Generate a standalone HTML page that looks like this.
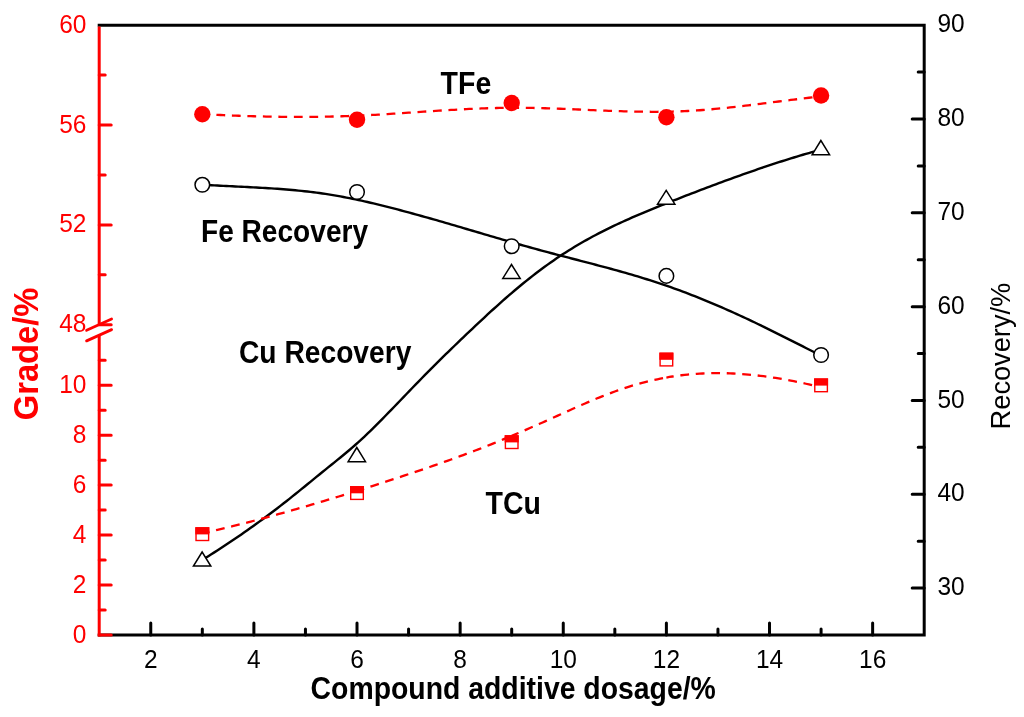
<!DOCTYPE html>
<html lang="en">
<head>
<meta charset="utf-8">
<title>Grade and recovery vs compound additive dosage</title>
<style>
html,body{margin:0;padding:0;background:#ffffff;}
body{width:1024px;height:717px;overflow:hidden;}
svg{display:block;}
</style>
</head>
<body>
<svg width="1024" height="717" viewBox="0 0 1024 717">
<rect width="1024" height="717" fill="#ffffff"/>
<g fill="none" stroke-linejoin="round">
<path d="M202.3 184.69 L205.3 184.88 L208.31 185.06 L211.31 185.23 L214.31 185.39 L217.31 185.55 L220.32 185.71 L223.32 185.87 L226.32 186.02 L229.33 186.17 L232.33 186.31 L235.33 186.46 L238.33 186.61 L241.34 186.75 L244.34 186.9 L247.34 187.05 L250.35 187.21 L253.35 187.36 L256.35 187.52 L259.36 187.69 L262.36 187.86 L265.36 188.04 L268.36 188.22 L271.37 188.41 L274.37 188.61 L277.37 188.82 L280.38 189.04 L283.38 189.27 L286.38 189.5 L289.38 189.75 L292.39 190.02 L295.39 190.29 L298.39 190.58 L301.4 190.89 L304.4 191.2 L307.4 191.54 L310.4 191.89 L313.41 192.26 L316.41 192.64 L319.41 193.05 L322.42 193.47 L325.42 193.91 L328.42 194.37 L331.43 194.86 L334.43 195.36 L337.43 195.88 L340.43 196.42 L343.44 196.98 L346.44 197.56 L349.44 198.15 L352.45 198.76 L355.45 199.39 L358.45 200.03 L361.45 200.68 L364.46 201.35 L367.46 202.03 L370.46 202.73 L373.47 203.43 L376.47 204.15 L379.47 204.88 L382.47 205.62 L385.48 206.37 L388.48 207.13 L391.48 207.89 L394.49 208.67 L397.49 209.45 L400.49 210.24 L403.5 211.04 L406.5 211.85 L409.5 212.66 L412.5 213.48 L415.51 214.3 L418.51 215.13 L421.51 215.97 L424.52 216.81 L427.52 217.66 L430.52 218.51 L433.52 219.36 L436.53 220.22 L439.53 221.09 L442.53 221.95 L445.54 222.82 L448.54 223.7 L451.54 224.57 L454.54 225.45 L457.55 226.33 L460.55 227.21 L463.55 228.09 L466.56 228.98 L469.56 229.86 L472.56 230.75 L475.57 231.63 L478.57 232.52 L481.57 233.4 L484.57 234.28 L487.58 235.17 L490.58 236.05 L493.58 236.93 L496.59 237.81 L499.59 238.68 L502.59 239.56 L505.59 240.43 L508.6 241.3 L511.6 242.16 L514.6 243.02 L517.61 243.88 L520.61 244.73 L523.61 245.58 L526.61 246.43 L529.62 247.26 L532.62 248.1 L535.62 248.92 L538.63 249.75 L541.63 250.56 L544.63 251.37 L547.63 252.17 L550.64 252.97 L553.64 253.77 L556.64 254.56 L559.65 255.35 L562.65 256.13 L565.65 256.91 L568.66 257.7 L571.66 258.48 L574.66 259.25 L577.66 260.03 L580.67 260.81 L583.67 261.6 L586.67 262.38 L589.68 263.16 L592.68 263.95 L595.68 264.74 L598.68 265.54 L601.69 266.34 L604.69 267.14 L607.69 267.95 L610.7 268.77 L613.7 269.59 L616.7 270.42 L619.7 271.26 L622.71 272.1 L625.71 272.96 L628.71 273.82 L631.72 274.69 L634.72 275.58 L637.72 276.47 L640.73 277.38 L643.73 278.3 L646.73 279.23 L649.73 280.17 L652.74 281.13 L655.74 282.1 L658.74 283.09 L661.75 284.09 L664.75 285.11 L667.75 286.15 L670.75 287.2 L673.76 288.27 L676.76 289.36 L679.76 290.46 L682.77 291.57 L685.77 292.71 L688.77 293.85 L691.77 295.02 L694.78 296.19 L697.78 297.38 L700.78 298.59 L703.79 299.81 L706.79 301.05 L709.79 302.29 L712.8 303.56 L715.8 304.83 L718.8 306.12 L721.8 307.42 L724.81 308.74 L727.81 310.06 L730.81 311.4 L733.82 312.75 L736.82 314.12 L739.82 315.49 L742.82 316.88 L745.83 318.28 L748.83 319.69 L751.83 321.11 L754.84 322.54 L757.84 323.98 L760.84 325.43 L763.84 326.89 L766.85 328.36 L769.85 329.84 L772.85 331.33 L775.86 332.83 L778.86 334.33 L781.86 335.84 L784.87 337.35 L787.87 338.86 L790.87 340.38 L793.87 341.9 L796.88 343.41 L799.88 344.93 L802.88 346.44 L805.89 347.95 L808.89 349.46 L811.89 350.96 L814.89 352.45 L817.9 353.93 L820.9 355.41" stroke="#000000" stroke-width="2.4" stroke-linecap="round"/>
<path d="M202.3 559.97 L205.3 558.09 L208.31 556.2 L211.31 554.29 L214.31 552.37 L217.31 550.44 L220.32 548.49 L223.32 546.52 L226.32 544.54 L229.33 542.54 L232.33 540.53 L235.33 538.5 L238.33 536.45 L241.34 534.39 L244.34 532.3 L247.34 530.21 L250.35 528.09 L253.35 525.95 L256.35 523.8 L259.36 521.63 L262.36 519.44 L265.36 517.23 L268.36 515 L271.37 512.75 L274.37 510.48 L277.37 508.19 L280.38 505.88 L283.38 503.55 L286.38 501.19 L289.38 498.82 L292.39 496.43 L295.39 494.02 L298.39 491.6 L301.4 489.17 L304.4 486.73 L307.4 484.29 L310.4 481.84 L313.41 479.39 L316.41 476.93 L319.41 474.49 L322.42 472.04 L325.42 469.61 L328.42 467.18 L331.43 464.76 L334.43 462.34 L337.43 459.91 L340.43 457.46 L343.44 455 L346.44 452.5 L349.44 449.97 L352.45 447.39 L355.45 444.76 L358.45 442.08 L361.45 439.33 L364.46 436.53 L367.46 433.68 L370.46 430.78 L373.47 427.85 L376.47 424.87 L379.47 421.86 L382.47 418.82 L385.48 415.76 L388.48 412.68 L391.48 409.58 L394.49 406.47 L397.49 403.35 L400.49 400.23 L403.5 397.1 L406.5 393.98 L409.5 390.87 L412.5 387.76 L415.51 384.66 L418.51 381.57 L421.51 378.49 L424.52 375.42 L427.52 372.38 L430.52 369.35 L433.52 366.34 L436.53 363.34 L439.53 360.37 L442.53 357.41 L445.54 354.47 L448.54 351.55 L451.54 348.64 L454.54 345.74 L457.55 342.85 L460.55 339.97 L463.55 337.1 L466.56 334.24 L469.56 331.38 L472.56 328.54 L475.57 325.7 L478.57 322.88 L481.57 320.06 L484.57 317.27 L487.58 314.49 L490.58 311.73 L493.58 308.99 L496.59 306.27 L499.59 303.58 L502.59 300.91 L505.59 298.27 L508.6 295.66 L511.6 293.08 L514.6 290.52 L517.61 288 L520.61 285.51 L523.61 283.05 L526.61 280.63 L529.62 278.23 L532.62 275.88 L535.62 273.55 L538.63 271.27 L541.63 269.02 L544.63 266.81 L547.63 264.64 L550.64 262.5 L553.64 260.41 L556.64 258.36 L559.65 256.34 L562.65 254.36 L565.65 252.42 L568.66 250.52 L571.66 248.65 L574.66 246.82 L577.66 245.03 L580.67 243.27 L583.67 241.54 L586.67 239.84 L589.68 238.18 L592.68 236.55 L595.68 234.95 L598.68 233.38 L601.69 231.84 L604.69 230.32 L607.69 228.83 L610.7 227.37 L613.7 225.93 L616.7 224.51 L619.7 223.12 L622.71 221.74 L625.71 220.38 L628.71 219.05 L631.72 217.72 L634.72 216.42 L637.72 215.13 L640.73 213.86 L643.73 212.59 L646.73 211.34 L649.73 210.1 L652.74 208.87 L655.74 207.65 L658.74 206.44 L661.75 205.23 L664.75 204.03 L667.75 202.83 L670.75 201.64 L673.76 200.45 L676.76 199.27 L679.76 198.09 L682.77 196.91 L685.77 195.74 L688.77 194.58 L691.77 193.41 L694.78 192.26 L697.78 191.11 L700.78 189.96 L703.79 188.82 L706.79 187.68 L709.79 186.55 L712.8 185.43 L715.8 184.31 L718.8 183.19 L721.8 182.08 L724.81 180.98 L727.81 179.88 L730.81 178.79 L733.82 177.7 L736.82 176.62 L739.82 175.55 L742.82 174.48 L745.83 173.42 L748.83 172.36 L751.83 171.31 L754.84 170.27 L757.84 169.23 L760.84 168.21 L763.84 167.18 L766.85 166.17 L769.85 165.17 L772.85 164.17 L775.86 163.18 L778.86 162.21 L781.86 161.24 L784.87 160.28 L787.87 159.34 L790.87 158.4 L793.87 157.48 L796.88 156.56 L799.88 155.66 L802.88 154.77 L805.89 153.9 L808.89 153.04 L811.89 152.19 L814.89 151.35 L817.9 150.53 L820.9 149.73" stroke="#000000" stroke-width="2.4" stroke-linecap="round"/>
<path d="M202.32 114.14 L205.36 114.3 L208.39 114.45 L211.42 114.6 L214.46 114.75 L217.49 114.89 L220.52 115.02 L223.56 115.16 L226.59 115.29 L229.62 115.41 L232.66 115.53 L235.69 115.65 L238.72 115.76 L241.76 115.87 L244.79 115.97 L247.82 116.06 L250.85 116.16 L253.89 116.24 L256.92 116.32 L259.95 116.4 L262.99 116.47 L266.02 116.54 L269.05 116.6 L272.09 116.66 L275.12 116.71 L278.15 116.75 L281.19 116.79 L284.22 116.82 L287.25 116.85 L290.28 116.87 L293.32 116.89 L296.35 116.89 L299.38 116.9 L302.42 116.9 L305.45 116.89 L308.48 116.87 L311.52 116.85 L314.55 116.82 L317.58 116.79 L320.62 116.74 L323.65 116.7 L326.68 116.64 L329.71 116.58 L332.75 116.51 L335.78 116.43 L338.81 116.35 L341.85 116.26 L344.88 116.16 L347.91 116.06 L350.95 115.95 L353.98 115.83 L357.01 115.7" stroke="#ff0000" stroke-width="2.3" stroke-dasharray="8.8 6.7" stroke-dashoffset="1.4"/>
<path d="M357.01 115.7 L360.05 115.57 L363.08 115.43 L366.11 115.28 L369.14 115.12 L372.18 114.96 L375.21 114.8 L378.24 114.63 L381.28 114.45 L384.31 114.27 L387.34 114.08 L390.38 113.9 L393.41 113.7 L396.44 113.51 L399.48 113.31 L402.51 113.11 L405.54 112.91 L408.57 112.71 L411.61 112.51 L414.64 112.3 L417.67 112.1 L420.71 111.9 L423.74 111.69 L426.77 111.49 L429.81 111.29 L432.84 111.09 L435.87 110.89 L438.91 110.7 L441.94 110.51 L444.97 110.32 L448.01 110.13 L451.04 109.95 L454.07 109.78 L457.1 109.6 L460.14 109.44 L463.17 109.28 L466.2 109.12 L469.24 108.97 L472.27 108.83 L475.3 108.7 L478.34 108.57 L481.37 108.45 L484.4 108.34 L487.44 108.24 L490.47 108.14 L493.5 108.06 L496.53 107.99 L499.57 107.92 L502.6 107.87 L505.63 107.83 L508.67 107.8 L511.7 107.78" stroke="#ff0000" stroke-width="2.3" stroke-dasharray="8.8 6.7" stroke-dashoffset="1.4"/>
<path d="M511.7 107.78 L514.73 107.77 L517.77 107.78 L520.8 107.79 L523.83 107.82 L526.87 107.85 L529.9 107.9 L532.93 107.95 L535.96 108.02 L539 108.09 L542.03 108.17 L545.06 108.25 L548.1 108.34 L551.13 108.44 L554.16 108.54 L557.2 108.65 L560.23 108.77 L563.26 108.88 L566.3 109 L569.33 109.13 L572.36 109.25 L575.39 109.38 L578.43 109.51 L581.46 109.64 L584.49 109.77 L587.53 109.9 L590.56 110.04 L593.59 110.16 L596.63 110.29 L599.66 110.42 L602.69 110.54 L605.73 110.66 L608.76 110.78 L611.79 110.89 L614.83 111 L617.86 111.11 L620.89 111.21 L623.92 111.3 L626.96 111.38 L629.99 111.46 L633.02 111.53 L636.06 111.6 L639.09 111.65 L642.12 111.7 L645.16 111.74 L648.19 111.76 L651.22 111.78 L654.26 111.78 L657.29 111.78 L660.32 111.76 L663.35 111.73 L666.39 111.69" stroke="#ff0000" stroke-width="2.3" stroke-dasharray="8.8 6.7" stroke-dashoffset="1.4"/>
<path d="M666.39 111.69 L669.42 111.63 L672.45 111.56 L675.49 111.47 L678.52 111.37 L681.55 111.26 L684.59 111.13 L687.62 110.98 L690.65 110.81 L693.69 110.63 L696.72 110.44 L699.75 110.23 L702.78 110 L705.82 109.76 L708.85 109.51 L711.88 109.25 L714.92 108.97 L717.95 108.69 L720.98 108.39 L724.02 108.08 L727.05 107.77 L730.08 107.44 L733.12 107.11 L736.15 106.77 L739.18 106.42 L742.21 106.06 L745.25 105.7 L748.28 105.34 L751.31 104.97 L754.35 104.59 L757.38 104.21 L760.41 103.83 L763.45 103.45 L766.48 103.06 L769.51 102.68 L772.55 102.29 L775.58 101.9 L778.61 101.51 L781.64 101.13 L784.68 100.74 L787.71 100.36 L790.74 99.98 L793.78 99.61 L796.81 99.24 L799.84 98.87 L802.88 98.5 L805.91 98.14 L808.94 97.76 L811.98 97.38 L815.01 96.99 L818.04 96.58 L821.08 96.16" stroke="#ff0000" stroke-width="2.3" stroke-dasharray="8.8 6.7" stroke-dashoffset="1.4"/>
<path d="M202.32 533.43 L205.36 532.74 L208.39 532.03 L211.42 531.32 L214.46 530.61 L217.49 529.88 L220.52 529.16 L223.56 528.42 L226.59 527.68 L229.62 526.93 L232.66 526.18 L235.69 525.42 L238.72 524.66 L241.76 523.89 L244.79 523.11 L247.82 522.33 L250.85 521.54 L253.89 520.75 L256.92 519.95 L259.95 519.15 L262.99 518.34 L266.02 517.52 L269.05 516.7 L272.09 515.87 L275.12 515.04 L278.15 514.21 L281.19 513.37 L284.22 512.52 L287.25 511.67 L290.28 510.81 L293.32 509.95 L296.35 509.09 L299.38 508.21 L302.42 507.34 L305.45 506.46 L308.48 505.57 L311.52 504.69 L314.55 503.79 L317.58 502.89 L320.62 501.99 L323.65 501.09 L326.68 500.17 L329.71 499.26 L332.75 498.34 L335.78 497.42 L338.81 496.49 L341.85 495.56 L344.88 494.62 L347.91 493.68 L350.95 492.74 L353.98 491.79 L357.01 490.84" stroke="#ff0000" stroke-width="2.3" stroke-dasharray="8.8 6.7" stroke-dashoffset="1.4"/>
<path d="M357.01 490.84 L360.05 489.89 L363.08 488.93 L366.11 487.97 L369.14 487.01 L372.18 486.04 L375.21 485.07 L378.24 484.09 L381.28 483.12 L384.31 482.14 L387.34 481.15 L390.38 480.17 L393.41 479.18 L396.44 478.18 L399.48 477.19 L402.51 476.18 L405.54 475.18 L408.57 474.17 L411.61 473.16 L414.64 472.14 L417.67 471.12 L420.71 470.09 L423.74 469.06 L426.77 468.02 L429.81 466.98 L432.84 465.93 L435.87 464.87 L438.91 463.81 L441.94 462.74 L444.97 461.67 L448.01 460.58 L451.04 459.49 L454.07 458.4 L457.1 457.29 L460.14 456.18 L463.17 455.06 L466.2 453.93 L469.24 452.8 L472.27 451.65 L475.3 450.5 L478.34 449.34 L481.37 448.16 L484.4 446.98 L487.44 445.79 L490.47 444.59 L493.5 443.38 L496.53 442.16 L499.57 440.93 L502.6 439.68 L505.63 438.43 L508.67 437.16 L511.7 435.89" stroke="#ff0000" stroke-width="2.3" stroke-dasharray="8.8 6.7" stroke-dashoffset="1.4"/>
<path d="M511.7 435.89 L514.73 434.61 L517.77 433.31 L520.8 432.01 L523.83 430.7 L526.87 429.39 L529.9 428.06 L532.93 426.73 L535.96 425.39 L539 424.05 L542.03 422.7 L545.06 421.35 L548.1 420 L551.13 418.64 L554.16 417.27 L557.2 415.91 L560.23 414.54 L563.26 413.17 L566.3 411.8 L569.33 410.43 L572.36 409.07 L575.39 407.72 L578.43 406.37 L581.46 405.03 L584.49 403.71 L587.53 402.39 L590.56 401.1 L593.59 399.82 L596.63 398.56 L599.66 397.32 L602.69 396.11 L605.73 394.91 L608.76 393.75 L611.79 392.61 L614.83 391.5 L617.86 390.41 L620.89 389.35 L623.92 388.33 L626.96 387.33 L629.99 386.37 L633.02 385.44 L636.06 384.54 L639.09 383.68 L642.12 382.86 L645.16 382.07 L648.19 381.31 L651.22 380.59 L654.26 379.91 L657.29 379.26 L660.32 378.64 L663.35 378.06 L666.39 377.51" stroke="#ff0000" stroke-width="2.3" stroke-dasharray="8.8 6.7" stroke-dashoffset="1.4"/>
<path d="M666.39 377.51 L669.42 376.99 L672.45 376.51 L675.49 376.06 L678.52 375.65 L681.55 375.26 L684.59 374.91 L687.62 374.59 L690.65 374.31 L693.69 374.05 L696.72 373.83 L699.75 373.64 L702.78 373.48 L705.82 373.35 L708.85 373.25 L711.88 373.18 L714.92 373.14 L717.95 373.13 L720.98 373.15 L724.02 373.19 L727.05 373.27 L730.08 373.37 L733.12 373.5 L736.15 373.65 L739.18 373.84 L742.21 374.05 L745.25 374.28 L748.28 374.54 L751.31 374.82 L754.35 375.13 L757.38 375.46 L760.41 375.82 L763.45 376.2 L766.48 376.6 L769.51 377.03 L772.55 377.47 L775.58 377.94 L778.61 378.43 L781.64 378.95 L784.68 379.48 L787.71 380.03 L790.74 380.6 L793.78 381.2 L796.81 381.81 L799.84 382.44 L802.88 383.09 L805.91 383.75 L808.94 384.44 L811.98 385.14 L815.01 385.86 L818.04 386.59 L821.08 387.34" stroke="#ff0000" stroke-width="2.3" stroke-dasharray="8.8 6.7" stroke-dashoffset="1.4"/>
</g>
<g fill="none" stroke-width="3" stroke-linecap="round">
<path d="M99.2 25.2 H924.2 V635 H99.2" stroke="#000000" stroke-linejoin="miter" stroke-linecap="square"/>
<path d="M150.76 635 v-12 M202.32 635 v-6 M253.89 635 v-12 M305.45 635 v-6 M357.01 635 v-12 M408.57 635 v-6 M460.14 635 v-12 M511.7 635 v-6 M563.26 635 v-12 M614.83 635 v-6 M666.39 635 v-12 M717.95 635 v-6 M769.51 635 v-12 M821.08 635 v-6 M872.64 635 v-12" stroke="#000000"/>
<path d="M924.2 588.09 h-12 M924.2 541.18 h-6 M924.2 494.28 h-12 M924.2 447.37 h-6 M924.2 400.46 h-12 M924.2 353.55 h-6 M924.2 306.65 h-12 M924.2 259.74 h-6 M924.2 212.83 h-12 M924.2 165.92 h-6 M924.2 119.02 h-12 M924.2 72.11 h-6" stroke="#000000"/>
<path d="M99.2 26.5 V324.7 M99.2 335.2 V636.5" stroke="#ff0000" stroke-linecap="butt"/>
<path d="M99.2 75.12 h6 M99.2 125.04 h12 M99.2 174.96 h6 M99.2 224.88 h12 M99.2 274.8 h6 M99.2 324.72 h12 M99.2 635 h12 M99.2 610.02 h6 M99.2 585.04 h12 M99.2 560.06 h6 M99.2 535.08 h12 M99.2 510.1 h6 M99.2 485.12 h12 M99.2 460.14 h6 M99.2 435.16 h12 M99.2 410.18 h6 M99.2 385.2 h12 M99.2 360.22 h6" stroke="#ff0000"/>
<path d="M86.6 330.3 L111.6 319.0 M86.6 340.9 L111.6 329.6" stroke="#ff0000" stroke-width="2.8"/>
</g>
<g stroke="#000000" stroke-width="1.5" fill="#ffffff">
<circle cx="202.32" cy="184.8" r="7.3"/>
<circle cx="357.01" cy="192" r="7.3"/>
<circle cx="511.7" cy="246.2" r="7.3"/>
<circle cx="666.39" cy="275.9" r="7.3"/>
<circle cx="821.08" cy="355" r="7.3"/>
<path d="M202.12 552 L193.43 566.1 L210.82 566.1 Z" stroke-linejoin="miter"/>
<path d="M356.81 447.5 L348.11 461.7 L365.51 461.7 Z" stroke-linejoin="miter"/>
<path d="M511.5 264.5 L502.8 278.4 L520.2 278.4 Z" stroke-linejoin="miter"/>
<path d="M666.19 190.3 L657.49 204.2 L674.89 204.2 Z" stroke-linejoin="miter"/>
<path d="M820.88 140.5 L812.17 154.7 L829.58 154.7 Z" stroke-linejoin="miter"/>
</g>
<g fill="#ff0000">
<circle cx="202.32" cy="114.2" r="8.2"/>
<circle cx="357.01" cy="119.7" r="8.2"/>
<circle cx="511.7" cy="103" r="8.2"/>
<circle cx="666.39" cy="117.3" r="8.2"/>
<circle cx="821.08" cy="95.5" r="8.2"/>
</g>
<rect x="196.02" y="527.9" width="12.6" height="12.6" fill="#ffffff" stroke="#ff0000" stroke-width="1.4"/>
<rect x="195.32" y="527.2" width="14" height="7.2" fill="#ff0000"/>
<rect x="350.71" y="486.8" width="12.6" height="12.6" fill="#ffffff" stroke="#ff0000" stroke-width="1.4"/>
<rect x="350.01" y="486.1" width="14" height="7.2" fill="#ff0000"/>
<rect x="505.4" y="435.9" width="12.6" height="12.6" fill="#ffffff" stroke="#ff0000" stroke-width="1.4"/>
<rect x="504.7" y="435.2" width="14" height="7.2" fill="#ff0000"/>
<rect x="660.09" y="353.3" width="12.6" height="12.6" fill="#ffffff" stroke="#ff0000" stroke-width="1.4"/>
<rect x="659.39" y="352.6" width="14" height="7.2" fill="#ff0000"/>
<rect x="814.78" y="379.1" width="12.6" height="12.6" fill="#ffffff" stroke="#ff0000" stroke-width="1.4"/>
<rect x="814.08" y="378.4" width="14" height="7.2" fill="#ff0000"/>
<g font-family='"Liberation Sans", sans-serif'>
<text transform="translate(86.4 32.7) scale(0.9450 1)" font-size="25.9" text-anchor="end" fill="#ff0000">60</text>
<text transform="translate(86.4 132.54) scale(0.9450 1)" font-size="25.9" text-anchor="end" fill="#ff0000">56</text>
<text transform="translate(86.4 232.38) scale(0.9450 1)" font-size="25.9" text-anchor="end" fill="#ff0000">52</text>
<text transform="translate(86.4 332.22) scale(0.9450 1)" font-size="25.9" text-anchor="end" fill="#ff0000">48</text>
<text transform="translate(86.4 392.7) scale(0.9450 1)" font-size="25.9" text-anchor="end" fill="#ff0000">10</text>
<text transform="translate(86.4 442.66) scale(0.9450 1)" font-size="25.9" text-anchor="end" fill="#ff0000">8</text>
<text transform="translate(86.4 492.62) scale(0.9450 1)" font-size="25.9" text-anchor="end" fill="#ff0000">6</text>
<text transform="translate(86.4 542.58) scale(0.9450 1)" font-size="25.9" text-anchor="end" fill="#ff0000">4</text>
<text transform="translate(86.4 592.54) scale(0.9450 1)" font-size="25.9" text-anchor="end" fill="#ff0000">2</text>
<text transform="translate(86.4 642.5) scale(0.9450 1)" font-size="25.9" text-anchor="end" fill="#ff0000">0</text>
<text transform="translate(937.4 595.29) scale(0.9450 1)" font-size="25.9" text-anchor="start" fill="#000000">30</text>
<text transform="translate(937.4 501.48) scale(0.9450 1)" font-size="25.9" text-anchor="start" fill="#000000">40</text>
<text transform="translate(937.4 407.66) scale(0.9450 1)" font-size="25.9" text-anchor="start" fill="#000000">50</text>
<text transform="translate(937.4 313.85) scale(0.9450 1)" font-size="25.9" text-anchor="start" fill="#000000">60</text>
<text transform="translate(937.4 220.03) scale(0.9450 1)" font-size="25.9" text-anchor="start" fill="#000000">70</text>
<text transform="translate(937.4 126.22) scale(0.9450 1)" font-size="25.9" text-anchor="start" fill="#000000">80</text>
<text transform="translate(937.4 32.4) scale(0.9450 1)" font-size="25.9" text-anchor="start" fill="#000000">90</text>
<text transform="translate(150.76 667.9) scale(0.9450 1)" font-size="25.9" text-anchor="middle" fill="#000000">2</text>
<text transform="translate(253.89 667.9) scale(0.9450 1)" font-size="25.9" text-anchor="middle" fill="#000000">4</text>
<text transform="translate(357.01 667.9) scale(0.9450 1)" font-size="25.9" text-anchor="middle" fill="#000000">6</text>
<text transform="translate(460.14 667.9) scale(0.9450 1)" font-size="25.9" text-anchor="middle" fill="#000000">8</text>
<text transform="translate(563.26 667.9) scale(0.9450 1)" font-size="25.9" text-anchor="middle" fill="#000000">10</text>
<text transform="translate(666.39 667.9) scale(0.9450 1)" font-size="25.9" text-anchor="middle" fill="#000000">12</text>
<text transform="translate(769.51 667.9) scale(0.9450 1)" font-size="25.9" text-anchor="middle" fill="#000000">14</text>
<text transform="translate(872.64 667.9) scale(0.9450 1)" font-size="25.9" text-anchor="middle" fill="#000000">16</text>
<text transform="translate(513.2 698.6) scale(0.9040 1)" font-size="31.4" text-anchor="middle" fill="#000000" font-weight="bold">Compound additive dosage/%</text>
<text transform="translate(440.6 93.8) scale(0.9076 1)" font-size="31.4" text-anchor="start" fill="#000000" font-weight="bold">TFe</text>
<text transform="translate(201 242.3) scale(0.8949 1)" font-size="31.4" text-anchor="start" fill="#000000" font-weight="bold">Fe Recovery</text>
<text transform="translate(239 363.3) scale(0.8985 1)" font-size="31.4" text-anchor="start" fill="#000000" font-weight="bold">Cu Recovery</text>
<text transform="translate(485.6 513.6) scale(0.9076 1)" font-size="31.4" text-anchor="start" fill="#000000" font-weight="bold">TCu</text>
<text transform="translate(38.3 420.2) rotate(-90) scale(0.9340 1)" font-size="35" text-anchor="start" fill="#ff0000" font-weight="bold">Grade/%</text>
<text transform="translate(1010.3 429.4) rotate(-90) scale(0.9550 1)" font-size="28.5" text-anchor="start" fill="#000000">Recovery/%</text>
</g>
</svg>
</body>
</html>
